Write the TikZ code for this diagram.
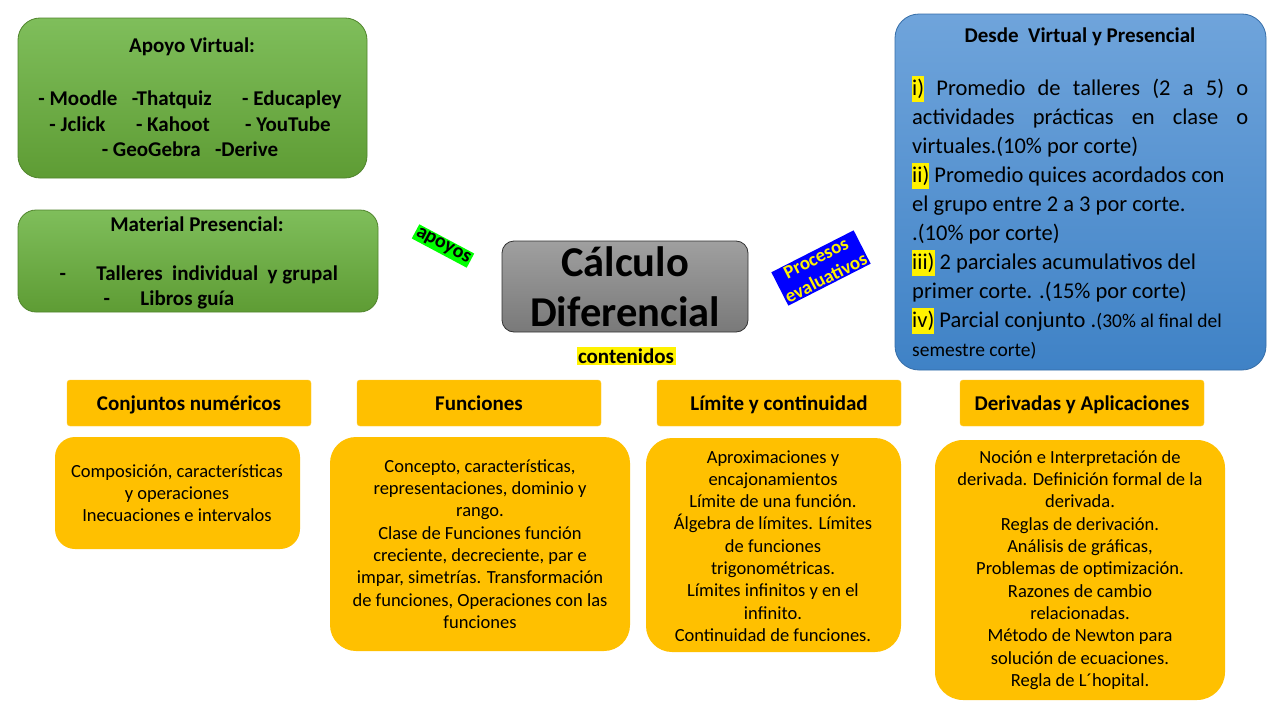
\documentclass[tikz,border=0pt]{standalone}
\usepackage{fontspec}
\setmainfont{Carlito}
\begin{document}
\begin{tikzpicture}[x=1pt,y=-1pt,
 hdr/.style={fill=yellowC,draw=yellowC!80!white,rounded corners=3pt},
 cbox/.style={fill=yellowC,rounded corners=20pt},
 ctext/.style={align=center,font=\fontsize{18.5}{22.3}\selectfont}]
\definecolor{yellowC}{HTML}{FFC000}
\definecolor{gtop}{HTML}{7FBE5B}\definecolor{gbot}{HTML}{5E9C34}
\definecolor{btop}{HTML}{6FA4DB}\definecolor{bbot}{HTML}{3F82C6}
\useasboundingbox (0,0) rectangle (1280,720);
\fill[white] (0,0) rectangle (1280,720);
% green boxes
\draw[rounded corners=22pt,draw=gbot!85!black,top color=gtop,bottom color=gbot,line width=0.8pt] (18,18) rectangle (367,178);
\node[font=\bfseries\fontsize{21}{22}\selectfont] (av) at (192,47) {Apoyo Virtual:};
\node[font=\bfseries\fontsize{21}{25.5}\selectfont,align=center] (avl) at (190,124) {- Moodle\ \ \ -Thatquiz\quad\ \ - Educapley\\- Jclick\quad\ \ - Kahoot\quad\ \ \ - YouTube\\- GeoGebra\ \ \ -Derive};
\draw[rounded corners=18pt,draw=gbot!85!black,top color=gtop,bottom color=gbot,line width=0.8pt] (18,210) rectangle (378,312);
\node[font=\bfseries\fontsize{21}{22}\selectfont] (mp) at (197,224) {Material Presencial:};
\node[font=\bfseries\fontsize{21}{22}\selectfont,anchor=west] (mp1) at (56,275) {-\quad\ \ Talleres\ \ individual\ \ y grupal};
\node[font=\bfseries\fontsize{21}{22}\selectfont,anchor=west] (mp2) at (100,300) {-\quad\ \ Libros guía};
% center
\draw[rounded corners=12pt,draw=black!80,top color=gray!75,bottom color=gray!95!black,line width=0.8pt] (502,241) rectangle (748,332);
\node[font=\bfseries\fontsize{42.5}{50}\selectfont,align=center] (cd) at (625,287) {Cálculo\\Diferencial};
\node[fill=green,rotate=-28,inner sep=1.5pt,font=\bfseries\fontsize{20}{20}\selectfont] (ap) at (443,246) {apoyos};
\node[fill=blue,text=yellow,rotate=27,inner sep=1.5pt,align=center,font=\bfseries\fontsize{19}{22}\selectfont] (pe) at (821,268) {Procesos\\evaluativos};
\node[fill=yellow,inner sep=1.5pt,font=\bfseries\fontsize{21}{22}\selectfont] (co) at (626,356) {contenidos};
% blue box
\draw[rounded corners=24pt,draw=bbot!85!black,top color=btop,bottom color=bbot,line width=0.8pt] (895,14) rectangle (1266,370);
\node[font=\bfseries\fontsize{21}{22}\selectfont] (dv) at (1080,37) {Desde\ \ Virtual y Presencial};
\node[anchor=north west,align=left,inner sep=0pt,font=\fontsize{22.5}{29}\selectfont] (ev) at (912,76) {%
\makebox[336pt][s]{\colorbox{yellow}{\hspace{-3pt}i)\hspace{-3pt}} Promedio de talleres (2 a 5) o}\\
\makebox[336pt][s]{actividades prácticas en clase o}\\
virtuales.(10\% por corte)\\
\colorbox{yellow}{\hspace{-3pt}ii)\hspace{-3pt}} Promedio quices acordados con\\
el grupo entre 2 a 3 por corte.\\
.(10\% por corte)\\
\colorbox{yellow}{\hspace{-3pt}iii)\hspace{-3pt}} 2 parciales acumulativos del\\
primer corte. .(15\% por corte)\\
\colorbox{yellow}{\hspace{-3pt}iv)\hspace{-3pt}} Parcial conjunto .{\fontsize{19.5}{29}\selectfont(30\% al final del}\\
{\fontsize{19.5}{29}\selectfont semestre corte)}};
% headers
\foreach \n/\a/\b/\t in {h1/67/311/Conjuntos numéricos,h2/357/601/Funciones,h3/657/901/Límite y continuidad,h4/960/1204/Derivadas y Aplicaciones}{
 \path[hdr] (\a,380) rectangle (\b,426);
 \node[font=\bfseries\fontsize{21}{22}\selectfont,anchor=base] (\n) at ({(\a+\b)/2},410) {\t};}
% content
\path[cbox] (55,437) rectangle (300,549);
\node[ctext] (c1) at (177,493) {Composición, características\\y operaciones\\Inecuaciones e intervalos};
\path[cbox,rounded corners=26pt] (330,437) rectangle (630,651);
\node[ctext] (c2) at (480,544) {Concepto, características,\\representaciones, dominio y\\rango.\\Clase de Funciones función\\creciente, decreciente, par e\\impar, simetrías. Transformación\\de funciones, Operaciones con las\\funciones};
\path[cbox,rounded corners=26pt] (646,438) rectangle (901,652);
\node[ctext] (c3) at (773,546) {Aproximaciones y\\encajonamientos\\Límite de una función.\\Álgebra de límites. Límites\\de funciones\\trigonométricas.\\Límites infinitos y en el\\infinito.\\Continuidad de funciones.};
\path[cbox,rounded corners=28pt] (935,440) rectangle (1225,700);
\node[ctext] (c4) at (1080,570) {Noción e Interpretación de\\derivada. Definición formal de la\\derivada.\\Reglas de derivación.\\Análisis de gráficas,\\Problemas de optimización.\\Razones de cambio\\relacionadas.\\Método de Newton para\\solución de ecuaciones.\\Regla de L´hopital.};
\end{tikzpicture}
\end{document}
